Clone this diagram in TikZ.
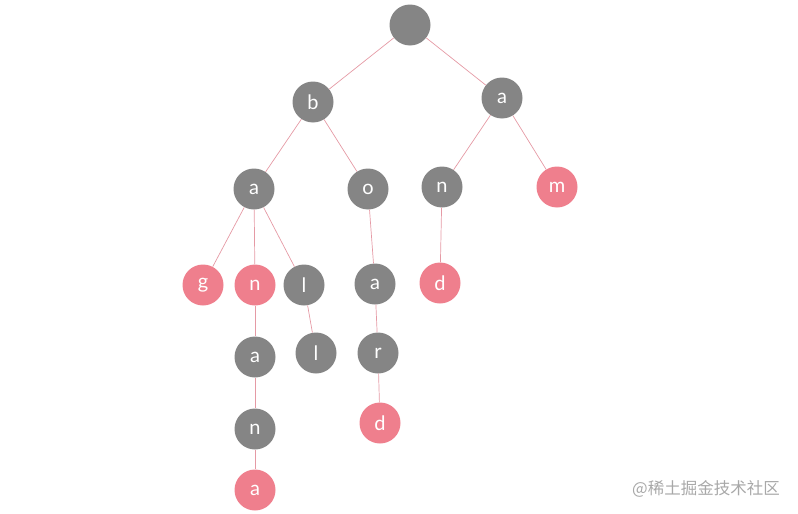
\documentclass[tikz,border=0pt]{standalone}
\usepackage{fontspec}
\setmainfont{Lato}
\newfontfamily\cjk{Noto Sans CJK SC}
\definecolor{nodegray}{HTML}{858585}
\definecolor{nodepink}{HTML}{EF7F8D}
\definecolor{edgepink}{HTML}{E59AA5}
\definecolor{wmgray}{HTML}{A8A8A8}
\tikzset{
  gnode/.style={circle, fill=nodegray, minimum size=41pt, inner sep=0pt, text=white, font=\fontsize{20}{20}\selectfont},
  pnode/.style={circle, fill=nodepink, minimum size=41pt, inner sep=0pt, text=white, font=\fontsize{20}{20}\selectfont},
  edge/.style={draw=edgepink, line width=0.7pt}
}
\begin{document}
\begin{tikzpicture}[x=1pt,y=-1pt]
\useasboundingbox (0,0) rectangle (798,514);
\node[gnode] (root) at (410,25) {};
\node[gnode] (b) at (313,102) {b};
\node[gnode] (a1) at (502,98) {a};
\node[gnode] (ba) at (254,189) {a};
\node[gnode] (bo) at (368,189) {o};
\node[gnode] (an) at (442,187) {n};
\node[pnode] (am) at (557,187) {m};
\node[pnode] (bag) at (203,285) {g};
\node[pnode] (ban) at (255,285) {n};
\node[gnode] (bal) at (304,285) {l};
\node[gnode] (boa) at (375,284) {a};
\node[pnode] (and) at (440,283) {d};
\node[gnode] (bana) at (255,357) {a};
\node[gnode] (ball) at (316,353) {l};
\node[gnode] (boar) at (378,353) {r};
\node[gnode] (banan) at (255,429) {n};
\node[pnode] (board) at (380,423) {d};
\node[pnode] (banana) at (255,490) {a};
\node[text=wmgray, font=\cjk\fontsize{16.5}{16.5}\selectfont, anchor=center] (wm) at (706,489) {@稀土掘金技术社区};
\path[edge] (root) -- (b);
\path[edge] (root) -- (a1);
\path[edge] (b) -- (ba);
\path[edge] (b) -- (bo);
\path[edge] (a1) -- (an);
\path[edge] (a1) -- (am);
\path[edge] (ba) -- (bag);
\path[edge] (ba) -- (ban);
\path[edge] (ba) -- (bal);
\path[edge] (bo) -- (boa);
\path[edge] (an) -- (and);
\path[edge] (ban) -- (bana);
\path[edge] (bal) -- (ball);
\path[edge] (boa) -- (boar);
\path[edge] (bana) -- (banan);
\path[edge] (boar) -- (board);
\path[edge] (banan) -- (banana);
\end{tikzpicture}
\end{document}
